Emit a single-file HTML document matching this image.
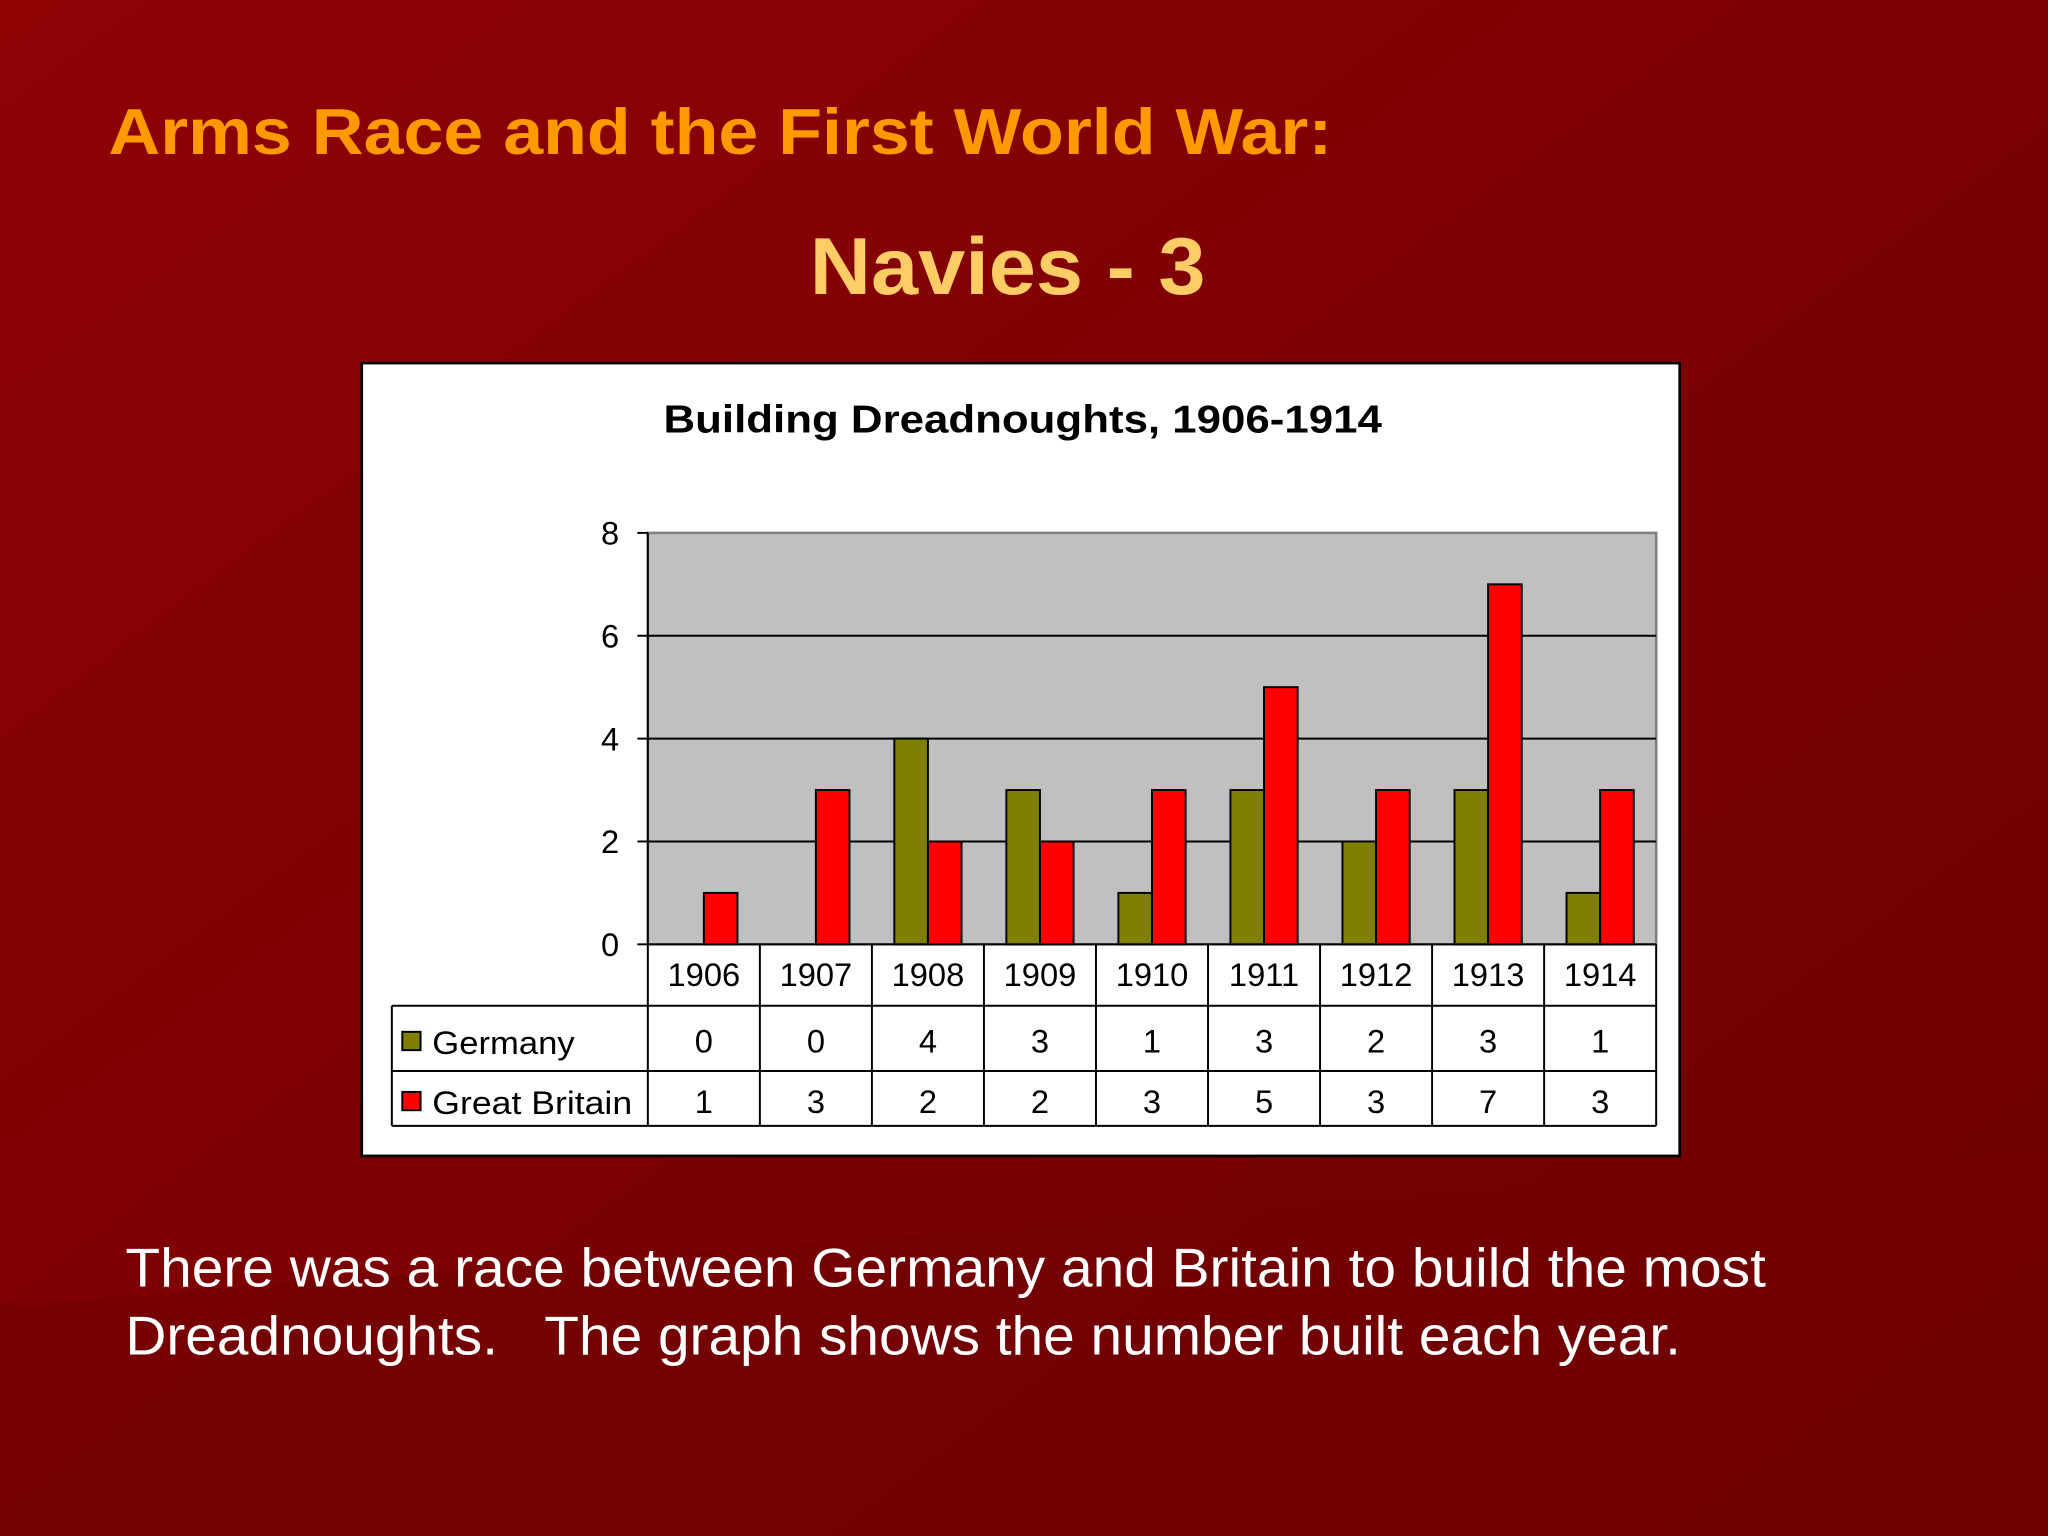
<!DOCTYPE html>
<html><head><meta charset="utf-8"><style>
html,body{margin:0;padding:0;width:2048px;height:1536px;overflow:hidden}
svg{display:block}
</style></head><body>
<svg id="s" width="2048" height="1536" viewBox="0 0 1568 1176" xmlns="http://www.w3.org/2000/svg" font-family="Liberation Sans, sans-serif">
<defs>
<linearGradient id="bg" x1="0" y1="0" x2="1" y2="1">
<stop offset="0" stop-color="#8e0204"/><stop offset="1" stop-color="#6a0002"/></linearGradient>
</defs>
<rect width="1568" height="1176" fill="url(#bg)"/>
<path d="M0 1000 L1568 880 L1568 1176 L0 1176 Z" fill="#720002" opacity="0.6"/>
<text x="83" y="118" font-size="50" font-weight="bold" fill="#ff9900" textLength="937" lengthAdjust="spacingAndGlyphs">Arms Race and the First World War:</text>
<text x="620" y="225" font-size="62" font-weight="bold" fill="#ffcc66" textLength="303" lengthAdjust="spacingAndGlyphs">Navies - 3</text>
<rect x="277" y="278" width="1009" height="607" fill="#fff" stroke="#000" stroke-width="2"/>
<text x="508" y="331" font-size="30" font-weight="bold" fill="#000" textLength="550" lengthAdjust="spacingAndGlyphs">Building Dreadnoughts, 1906-1914</text>
<g id="chart"></g>
<text x="96" y="985" font-size="42" fill="#fff" textLength="1256" lengthAdjust="spacingAndGlyphs">There was a race between Germany and Britain to build the most</text>
<text x="96" y="1037" font-size="42" fill="#fff" xml:space="preserve" textLength="1191" lengthAdjust="spacingAndGlyphs">Dreadnoughts.   The graph shows the number built each year.</text>
</svg>
<script>
const years=["1906","1907","1908","1909","1910","1911","1912","1913","1914"];
const germany=[0,0,4,3,1,3,2,3,1];
const britain=[1,3,2,2,3,5,3,7,3];
const yTicks=[0,2,4,6,8];
const seriesNames=["Germany","Great Britain"];
const NS="http://www.w3.org/2000/svg";
const g=document.getElementById('chart');
const L=496,R=1268,T=408,B=723,yMax=8;
const catW=(R-L)/years.length;
const y=v=>B-(v/yMax)*(B-T);
const x=i=>L+i*catW;
function el(t,a,txt){const e=document.createElementNS(NS,t);for(const k in a)e.setAttribute(k,a[k]);if(txt!==undefined)e.textContent=txt;g.appendChild(e);return e;}
let e=el('rect',{x:L,y:T,width:R-L,height:B-T,fill:'#c0c0c0',stroke:'#808080','stroke-width':2});


yTicks.forEach(t=>{
 if(t>0&&t<yMax){e=el('line',{x1:L,x2:R,y1:y(t),y2:y(t),stroke:'#000','stroke-width':1.5});
 
 }
 e=el('line',{x1:L-8,x2:L,y1:y(t),y2:y(t),stroke:'#000','stroke-width':1.5});
 
 
 e=el('text',{x:L-22,y:y(t)+9,'font-size':25,'text-anchor':'end',fill:'#000'},String(t));
 
 
});
e=el('line',{x1:L,x2:L,y1:T,y2:B,stroke:'#000','stroke-width':1.5});


const bw=catW*0.3, off=catW*0.2;
years.forEach((yr,i)=>{
 e=el('rect',{x:x(i)+off,y:y(germany[i]),width:bw,height:B-y(germany[i]),fill:'#808000',stroke:'#000','stroke-width':1.5});
 
 
 e=el('rect',{x:x(i)+off+bw,y:y(britain[i]),width:bw,height:B-y(britain[i]),fill:'#ff0000',stroke:'#000','stroke-width':1.5});
 
 
});
const r0=B,r1=770,r2=820,r3=862,tl=300;
[[L,R,r0],[tl,R,r1],[tl,R,r2],[tl,R,r3]].forEach(([a,b,yy])=>{
 e=el('line',{x1:a,x2:b,y1:yy,y2:yy,stroke:'#000','stroke-width':1.5});
 
 
});
e=el('line',{x1:tl,x2:tl,y1:r1,y2:r3,stroke:'#000','stroke-width':1.5});


for(let i=0;i<=years.length;i++){
 e=el('line',{x1:x(i),x2:x(i),y1:r0,y2:r3,stroke:'#000','stroke-width':1.5});
 
 
}
years.forEach((yr,i)=>{
 const cx=x(i)+catW/2;
 e=el('text',{x:cx,y:755,'font-size':25,'text-anchor':'middle',fill:'#000'},yr);
 
 
 e=el('text',{x:cx,y:806,'font-size':25,'text-anchor':'middle',fill:'#000'},String(germany[i]));
 
 
 e=el('text',{x:cx,y:852,'font-size':25,'text-anchor':'middle',fill:'#000'},String(britain[i]));
 
 
});
const legendW=[109,153];
[['#808000',790,807],['#ff0000',836,853]].forEach(([c,ry,ty],k)=>{
 e=el('rect',{x:308,y:ry,width:14,height:14,fill:c,stroke:'#000','stroke-width':1.5});
 
 
 e=el('text',{x:331,y:ty,'font-size':25,fill:'#000',textLength:legendW[k],lengthAdjust:'spacingAndGlyphs'},seriesNames[k]);
 
 
});
</script>
</body></html>
